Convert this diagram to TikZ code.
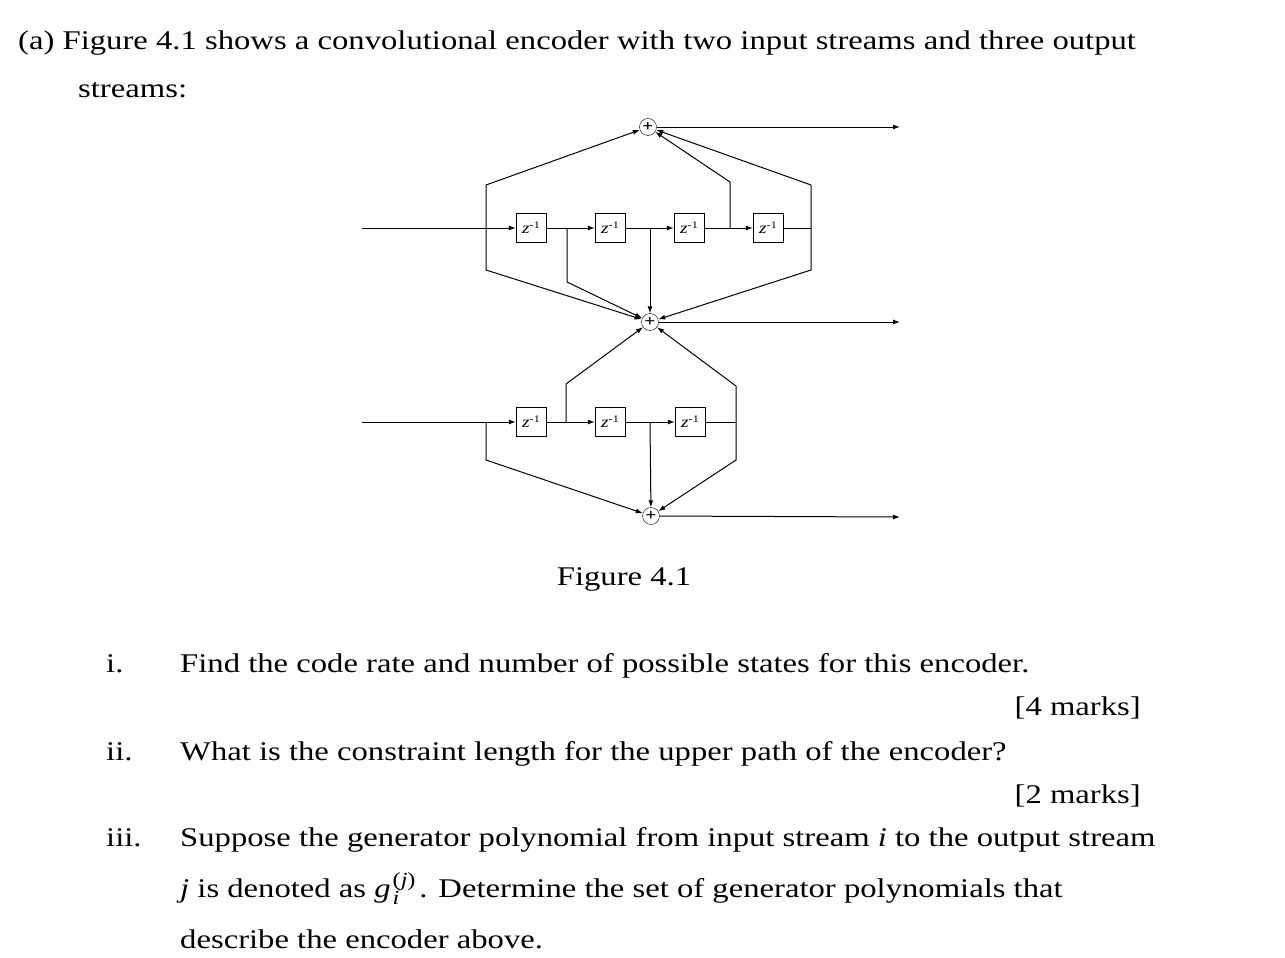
\documentclass[tikz,border=0pt]{standalone}
\usepackage{fontspec}
\setmainfont{Liberation Serif}[FakeStretch=1.21]
\usetikzlibrary{arrows.meta}
\newcommand{\zinv}{\textit{z}\raisebox{5pt}{\fontsize{10}{10}\selectfont -1}}
\begin{document}
\begin{tikzpicture}[x=1pt,y=-1pt,
 dl/.style={draw,minimum width=30pt,minimum height=29pt,inner sep=0pt,font=\fontsize{16}{16}\selectfont},
 add/.style={draw,circle,minimum size=17pt,inner sep=0pt,font=\fontsize{16}{16}\selectfont\bfseries},
 w/.style={line width=1pt},
 a/.style={w,-{Latex[length=7pt,width=5pt]}},
 txt/.style={anchor=base west,inner sep=0pt,font=\fontsize{27}{27}\selectfont}]
\useasboundingbox (0,0) rectangle (1285,958);
% upper
\node[dl] (b1) at (531,228) {\zinv};
\node[dl] (b2) at (610,228) {\zinv};
\node[dl] (b3) at (689,228) {\zinv};
\node[dl] (b4) at (768,228) {\zinv};
\node[add] (s1) at (648,127) {+};
\node[add] (s2) at (650,322) {+};
\node[add] (s3) at (651,516) {+};
\coordinate (in1) at (362,228);
\coordinate (o1) at (900,127);
\coordinate (o2) at (900,322);
\coordinate (o3) at (900,517);
\draw[a] (in1) -- (b1);
\draw[a] (b1) -- (b2);
\draw[a] (b2) -- (b3);
\draw[a] (b3) -- (b4);
\draw[w] (b4.east) -- (811,228);
\draw[a] (486,228) -- (486,185) -- (s1);
\draw[a] (486,228) -- (486,270) -- (s2);
\draw[a] (811,185) -- (811,270) -- (s2);
\draw[a] (811,185) -- (s1);
\draw[a] (730,228) -- (730,182) -- (s1);
\draw[a] (567,228) -- (567,282) -- (s2);
\draw[a] (650,228) -- (s2);
\draw[a] (s1) -- (o1);
\draw[a] (s2) -- (o2);
% lower
\node[dl] (c1) at (531,422) {\zinv};
\node[dl] (c2) at (610,422) {\zinv};
\node[dl] (c3) at (690,422) {\zinv};
\coordinate (in2) at (362,422);
\draw[a] (in2) -- (c1);
\draw[a] (c1) -- (c2);
\draw[a] (c2) -- (c3);
\draw[w] (c3.east) -- (736,422);
\draw[a] (486,422) -- (486,460) -- (s3);
\draw[a] (566,422) -- (566,384) -- (s2);
\draw[a] (650,422) -- (s3);
\draw[a] (736,386) -- (736,460) -- (s3);
\draw[a] (736,386) -- (s2);
\draw[a] (s3) -- (o3);
% text
\node[txt] (t1) at (18,50) {(a) Figure 4.1 shows a convolutional encoder with two input streams and three output};
\node[txt] (t2) at (78,97) {streams:};
\node[txt,anchor=base] (fig) at (624,585) {Figure 4.1};
\node[txt] (r1) at (106,672) {i.};
\node[txt] (q1) at (180,672) {Find the code rate and number of possible states for this encoder.};
\node[txt,anchor=base east] (m1) at (1141,715) {[4 marks]};
\node[txt] (r2) at (106,760) {ii.};
\node[txt] (q2) at (180,760) {What is the constraint length for the upper path of the encoder?};
\node[txt,anchor=base east] (m2) at (1141,803) {[2 marks]};
\node[txt] (r3) at (106,846) {iii.};
\node[txt] (q3) at (180,846) {Suppose the generator polynomial from input stream \textit{i} to the output stream};
\node[txt] (q4) at (180,897) {\textit{j} is denoted as \textit{g}\kern2pt\makebox[0pt][l]{\raisebox{11pt}{\fontsize{20}{20}\selectfont(\textit{j})}}\raisebox{-7pt}{\fontsize{20}{20}\selectfont\textit{i}}\hspace{20pt}. Determine the set of generator polynomials that};
\node[txt] (q5) at (180,948) {describe the encoder above.};
\end{tikzpicture}
\end{document}
